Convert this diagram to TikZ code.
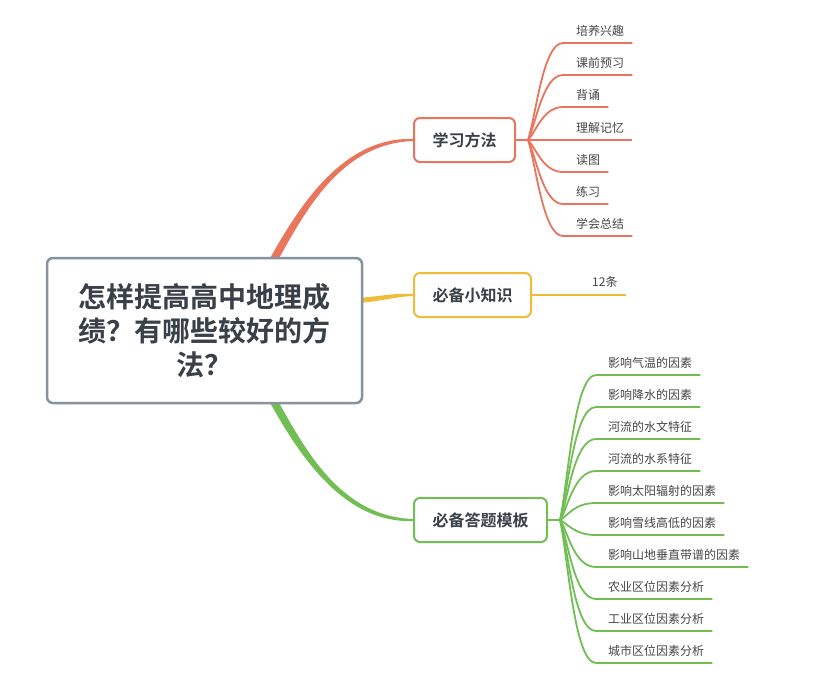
\documentclass[tikz,border=0pt]{standalone}
\usepackage{fontspec}
\setmainfont{Noto Sans CJK SC}[BoldFont={Noto Sans CJK SC Bold}]
\usetikzlibrary{calc}
\definecolor{co}{RGB}{233,117,92}
\definecolor{cy}{RGB}{240,187,55}
\definecolor{cg}{RGB}{112,190,84}
\definecolor{cgray}{RGB}{134,146,158}
\definecolor{ctxt}{RGB}{58,64,72}
\definecolor{cleaf}{RGB}{70,70,70}
\pgfdeclarelayer{back}
\pgfdeclarelayer{bg}
\pgfsetlayers{back,bg,main}
\begin{document}
\begin{tikzpicture}[x=1pt,y=-1pt,
  mainbox/.style={draw=cgray, line width=2.5pt, rounded corners=6pt, fill=white,
    minimum width=315pt, minimum height=145pt, align=center, text=ctxt,
    font=\bfseries\fontsize{28}{34}\selectfont},
  branch/.style={line width=2pt, rounded corners=6pt, fill=white, minimum height=44pt,
    inner xsep=18.5pt, text=ctxt, font=\bfseries\fontsize{16}{19}\selectfont, anchor=west},
  leaf/.style={inner sep=0pt, text=cleaf, font=\fontsize{12}{14}\selectfont, anchor=base west},
  ol/.style={draw=co, line width=1.8pt},
  yl/.style={draw=cy, line width=1.8pt},
  gl/.style={draw=cg, line width=1.8pt},
]
\begin{pgfonlayer}{back}
\fill[white] (0,0) rectangle (820,686);
\end{pgfonlayer}
\useasboundingbox (0,0) rectangle (820,686);

% central and branch nodes
\node[mainbox] (c) at (204.5,330.5) {怎样提高高中地理成\\绩？有哪些较好的方\\法？};
\node[branch, draw=co] (b1) at (413,140) {学习方法};
\node[branch, draw=cy] (b2) at (413,295) {必备小知识};
\node[branch, draw=cg] (b3) at (413,520) {必备答题模板};

% main tapered connectors
\begin{pgfonlayer}{bg}
\fill[co] ($(c.north)+(63,6)$) .. controls +(28,-50) and +(-73,-2.5) .. ($(b1.west)+(0,-1)$)
  -- ($(b1.west)+(0,1)$) .. controls +(-73,2.5) and +(28,-50) .. ($(c.north)+(72,6)$) -- cycle;
\fill[cg] ($(c.south)+(63,-6)$) .. controls +(28,50) and +(-73,2.5) .. ($(b3.west)+(0,1)$)
  -- ($(b3.west)+(0,-1)$) .. controls +(-73,-2.5) and +(28,50) .. ($(c.south)+(72,-6)$) -- cycle;
\fill[cy] ($(c.east)+(-5,-32.5)$) .. controls +(25,-2) and +(-20,-1) .. ($(b2.west)+(0,-1)$)
  -- ($(b2.west)+(0,1)$) .. controls +(-20,1) and +(25,-2) .. ($(c.east)+(-5,-27.5)$) -- cycle;
\end{pgfonlayer}

% orange leaves
\coordinate (of) at (528,140);
\draw[ol] (b1.east) -- (of);
\foreach \t/\yy [count=\i] in {培养兴趣/43,课前预习/75,背诵/107,理解记忆/140,读图/172,练习/204,学会总结/236} {
  \node[leaf] (o\i) at (576,\yy-8) {\t};
  \coordinate (os\i) at (563,\yy);
  \draw[ol] (of) .. controls +(8,{0.25*(\yy-140)}) and +(-20,0) .. (os\i) -- ($(os\i -| o\i.east)+(8,0)$);
}

% yellow leaf
\node[leaf] (y1) at (592,286) {12条};
\draw[yl] (b2.east) -- ($(b2.east -| y1.east)+(8,0)$);

% green leaves
\coordinate (gf) at (560,520);
\draw[gl] (b3.east) -- (gf);
\foreach \t/\yy [count=\i] in {影响气温的因素/375,影响降水的因素/407,河流的水文特征/439,河流的水系特征/471,影响太阳辐射的因素/503,影响雪线高低的因素/535,影响山地垂直带谱的因素/567,农业区位因素分析/599,工业区位因素分析/631,城市区位因素分析/663} {
  \node[leaf] (g\i) at (608,\yy-8) {\t};
  \coordinate (gs\i) at (596,\yy);
  \draw[gl] (gf) .. controls +(8,{0.25*(\yy-520)}) and +(-22,0) .. (gs\i) -- ($(gs\i -| g\i.east)+(8,0)$);
}
\end{tikzpicture}
\end{document}
